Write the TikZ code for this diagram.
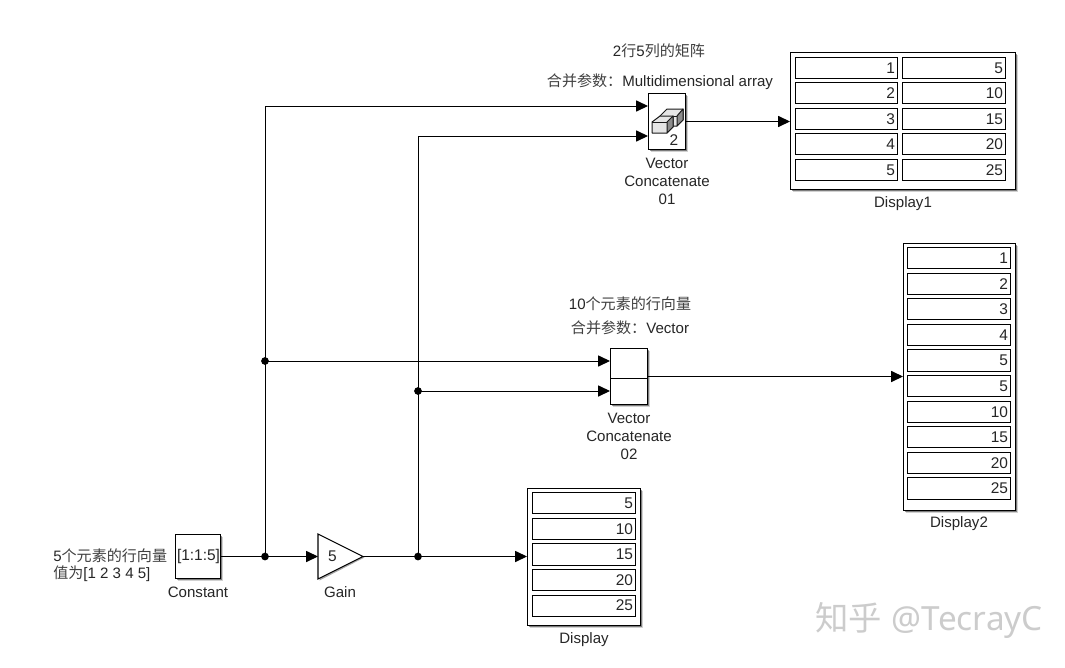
\documentclass[tikz,border=0pt]{standalone}
\usepackage{fontspec}
\setmainfont{Liberation Sans}
\newfontfamily\cjk{Noto Sans CJK SC}
\newfontfamily\wmlatin{Noto Sans}
\usetikzlibrary{arrows.meta,shadows}
\definecolor{cjkgray}{gray}{0.25}
\newcommand{\zh}[1]{{\cjk\color{cjkgray}#1}}
\tikzset{
  x=0.75pt,y=-0.75pt,
  blockbox/.style={draw=black,line width=0.8pt,fill=white,inner sep=0pt,minimum width=0pt,
    drop shadow={shadow xshift=1.9pt,shadow yshift=-1.9pt,fill=black,opacity=0.18},
    drop shadow={shadow xshift=1.1pt,shadow yshift=-1.1pt,fill=black,opacity=0.4}},
  cellbox/.style={draw=black,line width=0.75pt,fill=white,inner sep=0pt,text width=#1,align=right,minimum height=15.9pt,font=\fontsize{11.6}{12}\selectfont,text=black!85},
  cellbox/.default=77.4pt,
  lbl/.style={font=\fontsize{11.3}{13.5}\selectfont,text=black!85,inner sep=0pt,align=center},
  sig/.style={line width=0.75pt,-{Triangle[length=9pt,width=8.4pt]}},
  junction/.style={circle,fill=black,inner sep=0pt,minimum size=5.8pt},
  cubeline/.style={line width=0.75pt,line join=round,draw=black!90},
}
\newcommand{\blk}[5]{\node[blockbox,minimum width=#4*0.75pt-0.8pt,minimum height=#5*0.75pt-0.8pt,anchor=north west] (#1) at (#2,#3) {};}
\begin{document}
\begin{tikzpicture}
\useasboundingbox (0,0) rectangle (1065,668);
\fill[white] (0,0) rectangle (1065,668);

% blocks
\blk{conc1}{648}{93}{38}{57}
\blk{conc2}{610}{348}{38}{57}
\blk{const}{175}{534}{46}{45}
\blk{disp}{527}{488}{114}{138}
\blk{disp1}{790}{52}{226}{138}
\blk{disp2}{903}{243}{113}{268}

% gain
\fill[black,opacity=0.35] (319.5,535.5) -- (364.5,557.5) -- (319.5,580.5) -- cycle;
\node[inner sep=0pt,minimum width=33.75pt,minimum height=33.75pt,anchor=north west] (gain) at (318,534) {};
\draw[line width=0.8pt,fill=white] (318,534) -- (363,556.5) -- (318,579) -- cycle;
\node[lbl,font=\fontsize{11.6}{13}\selectfont] (gainv) at (332.5,556.5) {5};

% ports
\coordinate (c1a) at (conc1.west |- 0,106);
\coordinate (c1b) at (conc1.west |- 0,136);
\coordinate (c2a) at (conc2.west |- 0,361);
\coordinate (c2b) at (conc2.west |- 0,391);
\coordinate (j1) at (265,556.5);
\coordinate (j2) at (418,556.5);
\coordinate (j3) at (265,361);
\coordinate (j4) at (418,391);
\coordinate (gainin) at (318,556.5);
\coordinate (gainout) at (363,556.5);

% connectors
\draw[sig] (const.east |- j1) -- (gainin);
\draw[sig] (gainout) -- (disp.west |- j2);
\draw[sig] (j1) -- (j1 |- c1a) -- (c1a);
\draw[sig] (j2) -- (j2 |- c1b) -- (c1b);
\draw[sig] (j3) -- (c2a);
\draw[sig] (j4) -- (c2b);
\draw[sig] (conc1.east) -- (disp1.west |- conc1.east);
\draw[sig] (conc2.east) -- (disp2.west |- conc2.east);
\node[junction] (n1) at (j1) {};
\node[junction] (n2) at (j2) {};
\node[junction] (n3) at (j3) {};
\node[junction] (n4) at (j4) {};

% block contents
\draw[line width=0.75pt] (610,378) -- (648,378);
\node[lbl,font=\fontsize{11.6}{13}\selectfont] (constv) at (198.5,556) {[1:1:5]};

% cube icon
\draw[cubeline,fill=black!10] (660,116) -- (667,109) -- (683,109) -- (683,120) -- (677,126) -- (660,126) -- cycle;
\draw[cubeline,fill=black!45] (683,109) -- (683,120) -- (677,126) -- (677,116) -- cycle;
\draw[cubeline] (660,116) -- (677,116);
\draw[cubeline,fill=black!10] (652,122) -- (660,116) -- (673,116) -- (673,127) -- (667,133) -- (652,133) -- cycle;
\draw[cubeline,fill=black!45] (673,116) -- (673,127) -- (667,133) -- (667,122) -- cycle;
\draw[cubeline] (652,122) -- (667,122);
\node[lbl,font=\fontsize{11.6}{13}\selectfont] (cdim) at (674,140) {2};

% display cells
\foreach \nm/\v/\yy in {a/5/492,b/10/517.7,c/15/543.3,d/20/569,e/25/594.5}
  \node[cellbox,anchor=north west] (disp\nm) at (532,\yy) {\v\kern2pt};
\foreach \nm/\v/\yy in {a/1/57,b/2/82,c/3/108,d/4/133,e/5/159}
  \node[cellbox=76.6pt,anchor=north west] (dla\nm) at (795,\yy) {\v\kern2pt};
\foreach \nm/\v/\yy in {a/5/57,b/10/82,c/15/108,d/20/133,e/25/159}
  \node[cellbox=77.4pt,anchor=north west] (dlb\nm) at (902,\yy) {\v\kern2pt};
\foreach \nm/\v/\yy in {a/1/247,b/2/272.6,c/3/298.2,d/4/323.8,e/5/349.4,f/5/375,g/10/400.6,h/15/426.2,i/20/451.8,j/25/477.4}
  \node[cellbox,anchor=north west] (dt\nm) at (907,\yy) {\v\kern2pt};

% labels
\node[lbl] (t1) at (659,51) {2\zh{行}5\zh{列的矩阵}};
\node[lbl] (t2) at (660,81.5) {\zh{合并参数：}Multidimensional array};
\node[lbl] (t3) at (630,304) {10\zh{个元素的行向量}};
\node[lbl] (t4) at (630,328) {\zh{合并参数：}Vector};
\node[lbl,anchor=west] (t5) at (53,556) {5\zh{个元素的行向量}};
\node[lbl,anchor=west] (t6) at (53,574) {\zh{值为}[1 2 3 4 5]};
\node[lbl] (l1) at (667,181) {Vector\\Concatenate\\01};
\node[lbl] (l2) at (629,436) {Vector\\Concatenate\\02};
\node[lbl] (l3) at (198,592) {Constant};
\node[lbl] (l4) at (340,592) {Gain};
\node[lbl] (l5) at (584,640) {Display};
\node[lbl] (l6) at (903,203.5) {Display1};
\node[lbl] (l7) at (959,523.5) {Display2};

% watermark
\node[inner sep=0pt,anchor=west,text=black!20,font=\fontsize{25}{27}\selectfont] (wm) at (815,620) {{\cjk 知乎}\hspace{7.5pt}{\wmlatin @TecrayC}};
\end{tikzpicture}
\end{document}
